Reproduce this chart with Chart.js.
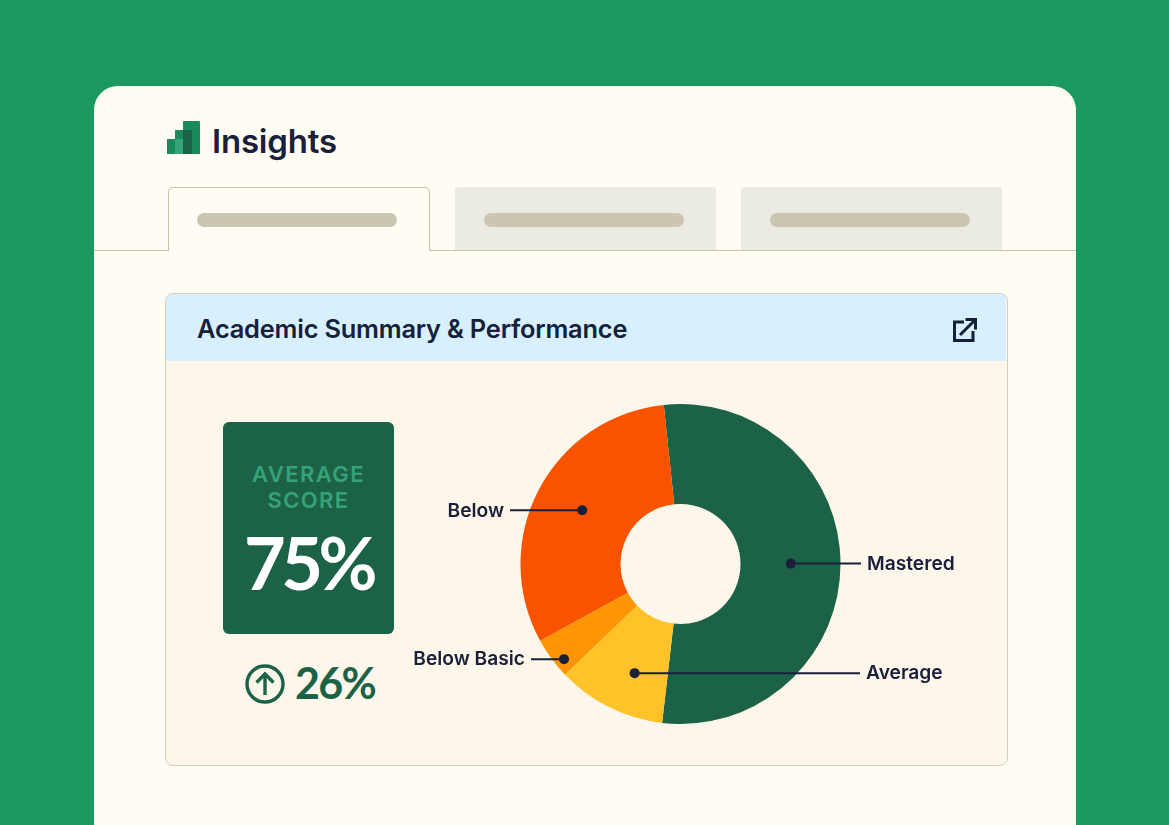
<!DOCTYPE html>
<html>
<head>
<meta charset="utf-8">
<title>Insights</title>
<script src="https://cdn.jsdelivr.net/npm/chart.js@4"></script>
<style>
    html, body { margin: 0; padding: 0; width: 1169px; height: 825px; overflow: hidden; background: #1a9960; }
    body { position: relative; font-family: Inter, Lato, sans-serif; color: #1a1f3a; }
    .abs { position: absolute; box-sizing: border-box; }
    #card { left: 94px; top: 86px; width: 982px; height: 800px; background: #fffdf3; border-radius: 24px; }
    #title { left: 212px; top: 119px; font-size: 33px; line-height: 44px; font-weight: 600; letter-spacing: -0.2px; }
    #tab-line { left: 94px; top: 250px; width: 982px; height: 1px; background: #c9c3ad; }
    .tab { top: 187px; width: 261px; height: 63px; background: #ecebe3; border-radius: 3px 3px 0 0; }
    #tab-a { left: 168px; width: 262px; height: 64px; background: #fffdf3; border: 1px solid #c9c3ad; border-bottom: none; border-radius: 5px 5px 0 0; }
    #tab-b { left: 455px; }
    #tab-c { left: 741px; }
    .pill { top: 213px; width: 200px; height: 14px; border-radius: 7px; background: #cbc6b0; }
    #panel { left: 164.5px; top: 292.5px; width: 843px; height: 473px; background: #fdf6ea; border: 1.5px solid #d5cfb9; border-radius: 8px; overflow: hidden; }
    #panel-head { left: 0; top: 0; width: 840px; height: 67px; background: #d8effe; }
    #panel-title { left: 197px; top: 311px; font-size: 25.4px; line-height: 36px; font-weight: 600; letter-spacing: -0.2px; color: #14213a; }
    #score { left: 223px; top: 422px; width: 171px; height: 212px; background: #1b6246; border-radius: 6px; text-align: center; }
    #score-label { left: 0; top: 39px; width: 171px; font-size: 22px; line-height: 26px; font-weight: 600; letter-spacing: 1.4px; color: #36a278; }
    #score-value { left: 0; top: 100px; width: 171px; font-family: Lato, Inter, sans-serif; font-size: 72px; line-height: 80px; font-weight: 700; letter-spacing: -4.5px; color: #fff; }
    #change { left: 295px; top: 658px; font-family: Lato, Inter, sans-serif; font-size: 43px; line-height: 50px; font-weight: 700; letter-spacing: -1.7px; color: #1b6246; }
    #chart-box { left: 400px; top: 384px; width: 561px; height: 360px; }
</style>
</head>
<body>
<div class="abs" id="card"></div>

<svg class="abs" style="left:167px;top:121px" width="33" height="33" viewBox="0 0 33 33">
    <path d="M0 18h8v15H0z" fill="#1a8a5c"/>
    <path d="M8 9.5q0-.5.5-.5H19v24H8z" fill="#1a8a5c"/>
    <path d="M8 18h8v15H8z" fill="#35a67a"/>
    <path d="M16 0.5q0-.5.5-.5H32q1 0 1 1v32H16z" fill="#1a8a5c"/>
    <path d="M16 9h9v24h-9z" fill="#1b6246"/>
</svg>
<div class="abs" id="title">Insights</div>

<div class="abs" id="tab-line"></div>
<div class="abs tab" id="tab-b"></div>
<div class="abs tab" id="tab-c"></div>
<div class="abs tab" id="tab-a"></div>
<div class="abs pill" style="left:197px"></div>
<div class="abs pill" style="left:484px"></div>
<div class="abs pill" style="left:770px"></div>

<div class="abs" id="panel"><div class="abs" id="panel-head"></div></div>
<div class="abs" id="panel-title">Academic Summary &amp; Performance</div>
<svg class="abs" style="left:953px;top:318px" width="24" height="24" viewBox="0 0 24 24" fill="none" stroke="#14213a" stroke-width="3">
    <path d="M11 4H1.5v18.5H20V13"/>
    <path d="M7 17L21 3"/>
    <path d="M12.5 1.5H22.5V11.5"/>
</svg>

<div class="abs" id="score">
    <div class="abs" id="score-label">AVERAGE<br>SCORE</div>
    <div class="abs" id="score-value">75%</div>
</div>

<svg class="abs" style="left:245px;top:664px" width="40" height="40" viewBox="0 0 40 40" fill="none" stroke="#1b6246" stroke-width="3.4">
    <circle cx="20" cy="20" r="18"/>
    <path d="M20 31V10"/>
    <path d="M11.5 18.5L20 10l8.5 8.5"/>
</svg>
<div class="abs" id="change">26%</div>

<div class="abs" id="chart-box"><canvas id="score-chart"></canvas></div>

<script>
// ===== DATA =====
const CATEGORIES = ['Mastered', 'Average', 'Below Basic', 'Below'];
const SHARES = [53.5, 11, 4.2, 31.3];
const SLICE_COLORS = ['#1b6246', '#ffc329', '#ff9505', '#f95300'];

// leader line look, one entry per category
const DOT_RADIUS_FRACTION = [0.69, 0.74, 0.94, 0.70];
const DOT_ANGLE_SHIFT = [-0.5, -3.6, -3, 1];
const LINE_END_X = [861, 860, 531, 510];

const leaderPlugin = {
    id: 'leaders',
    afterDatasetsDraw(chart) {
        const c = chart.ctx;
        const box = chart.canvas.parentElement.offsetLeft;
        chart.getDatasetMeta(0).data.forEach((arc, i) => {
            const p = arc.getProps(['x', 'y', 'startAngle', 'endAngle', 'outerRadius'], true);
            const mid = (p.startAngle + p.endAngle) / 2 + DOT_ANGLE_SHIFT[i] * Math.PI / 180;
            const dx = p.x + Math.cos(mid) * p.outerRadius * DOT_RADIUS_FRACTION[i];
            const dy = p.y + Math.sin(mid) * p.outerRadius * DOT_RADIUS_FRACTION[i];
            const endX = LINE_END_X[i] - box;
            const toRight = endX > dx;

            c.save();
            c.strokeStyle = '#1a1f3a';
            c.lineWidth = 2;
            c.beginPath();
            c.moveTo(dx, dy);
            c.lineTo(endX, dy);
            c.stroke();
            c.fillStyle = '#1a1f3a';
            c.beginPath();
            c.arc(dx, dy, 5, 0, Math.PI * 2);
            c.fill();
            c.font = '600 19.2px Inter, Lato, sans-serif';
            c.textBaseline = 'middle';
            c.textAlign = toRight ? 'left' : 'right';
            c.fillText(CATEGORIES[i], endX + (toRight ? 6 : -6), dy + 0.5);
            c.restore();
        });
    }
};

new Chart(document.getElementById('score-chart'), {
    type: 'doughnut',
    data: {
        labels: CATEGORIES,
        datasets: [{
            data: SHARES,
            backgroundColor: SLICE_COLORS,
            borderWidth: 0
        }]
    },
    options: {
        responsive: true,
        maintainAspectRatio: false,
        animation: false,
        rotation: -6,
        radius: 160,
        cutout: '37.5%',
        plugins: {
            legend: { display: false },
            tooltip: { enabled: false }
        }
    },
    plugins: [leaderPlugin]
});
</script>
</body>
</html>
